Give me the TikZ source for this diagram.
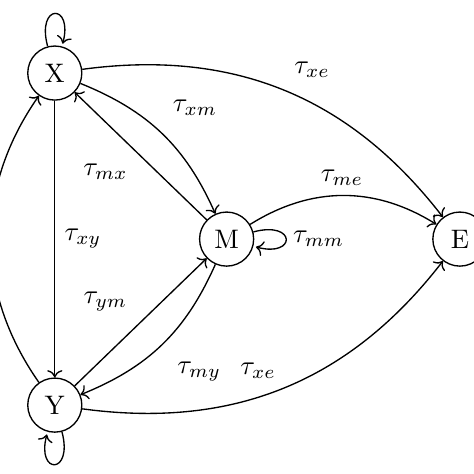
\documentclass[tikz,border=0pt]{standalone}
\usepackage{amsmath}
\usepackage{amssymb}
\usepackage{tikz}
\usetikzlibrary{arrows.meta}

\begin{document}
\begin{tikzpicture}[x=1.09cm, y=1.09cm, ->, line width=0.5pt,
        state/.style={draw, circle, inner sep=0pt, minimum size=7.1mm},
        rate/.style={inner sep=1pt}]
        \useasboundingbox (-0.66,0.88) rectangle (5.05,-4.83);
        \node[state] (X) at (0,0) {X};
        \node[state] (Y) at (0,-4) {Y};
        \node[state] (M) at (2.07,-2) {M};
        \node[state] (E) at (4.88,-2) {E};

        \draw (X) edge[loop above] (X);
        \draw (Y) edge[loop below] (Y);
        \draw (M) edge[loop right] (M);

        \draw (X) -- (Y);
        \draw (Y) to[bend left=35] (X);
        \draw (M) -- (X);
        \draw (X) to[bend left=22] (M);
        \draw (Y) -- (M);
        \draw (M) to[bend left=22] (Y);
        \draw (M) to[bend left=32] (E);
        \draw (X) to[bend left=30] (E);
        \draw (Y) to[bend right=30] (E);

        % rates
        \node[rate] (xe) at (3.10,0.04) {$\tau_{xe}$};
        \node[rate] (xm) at (1.69,-0.42) {$\tau_{xm}$};
        \node[rate] (mx) at (0.61,-1.19) {$\tau_{mx}$};
        \node[rate] (me) at (3.46,-1.26) {$\tau_{me}$};
        \node[rate] (mm) at (3.18,-2.0) {$\tau_{mm}$};
        \node[rate] (xy) at (0.34,-1.99) {$\tau_{xy}$};
        \node[rate] (ym) at (0.61,-2.75) {$\tau_{ym}$};
        \node[rate] (my) at (1.74,-3.59) {$\tau_{my}$};
        \node[rate] (ye) at (2.45,-3.59) {$\tau_{xe}$};
\end{tikzpicture}
\end{document}
